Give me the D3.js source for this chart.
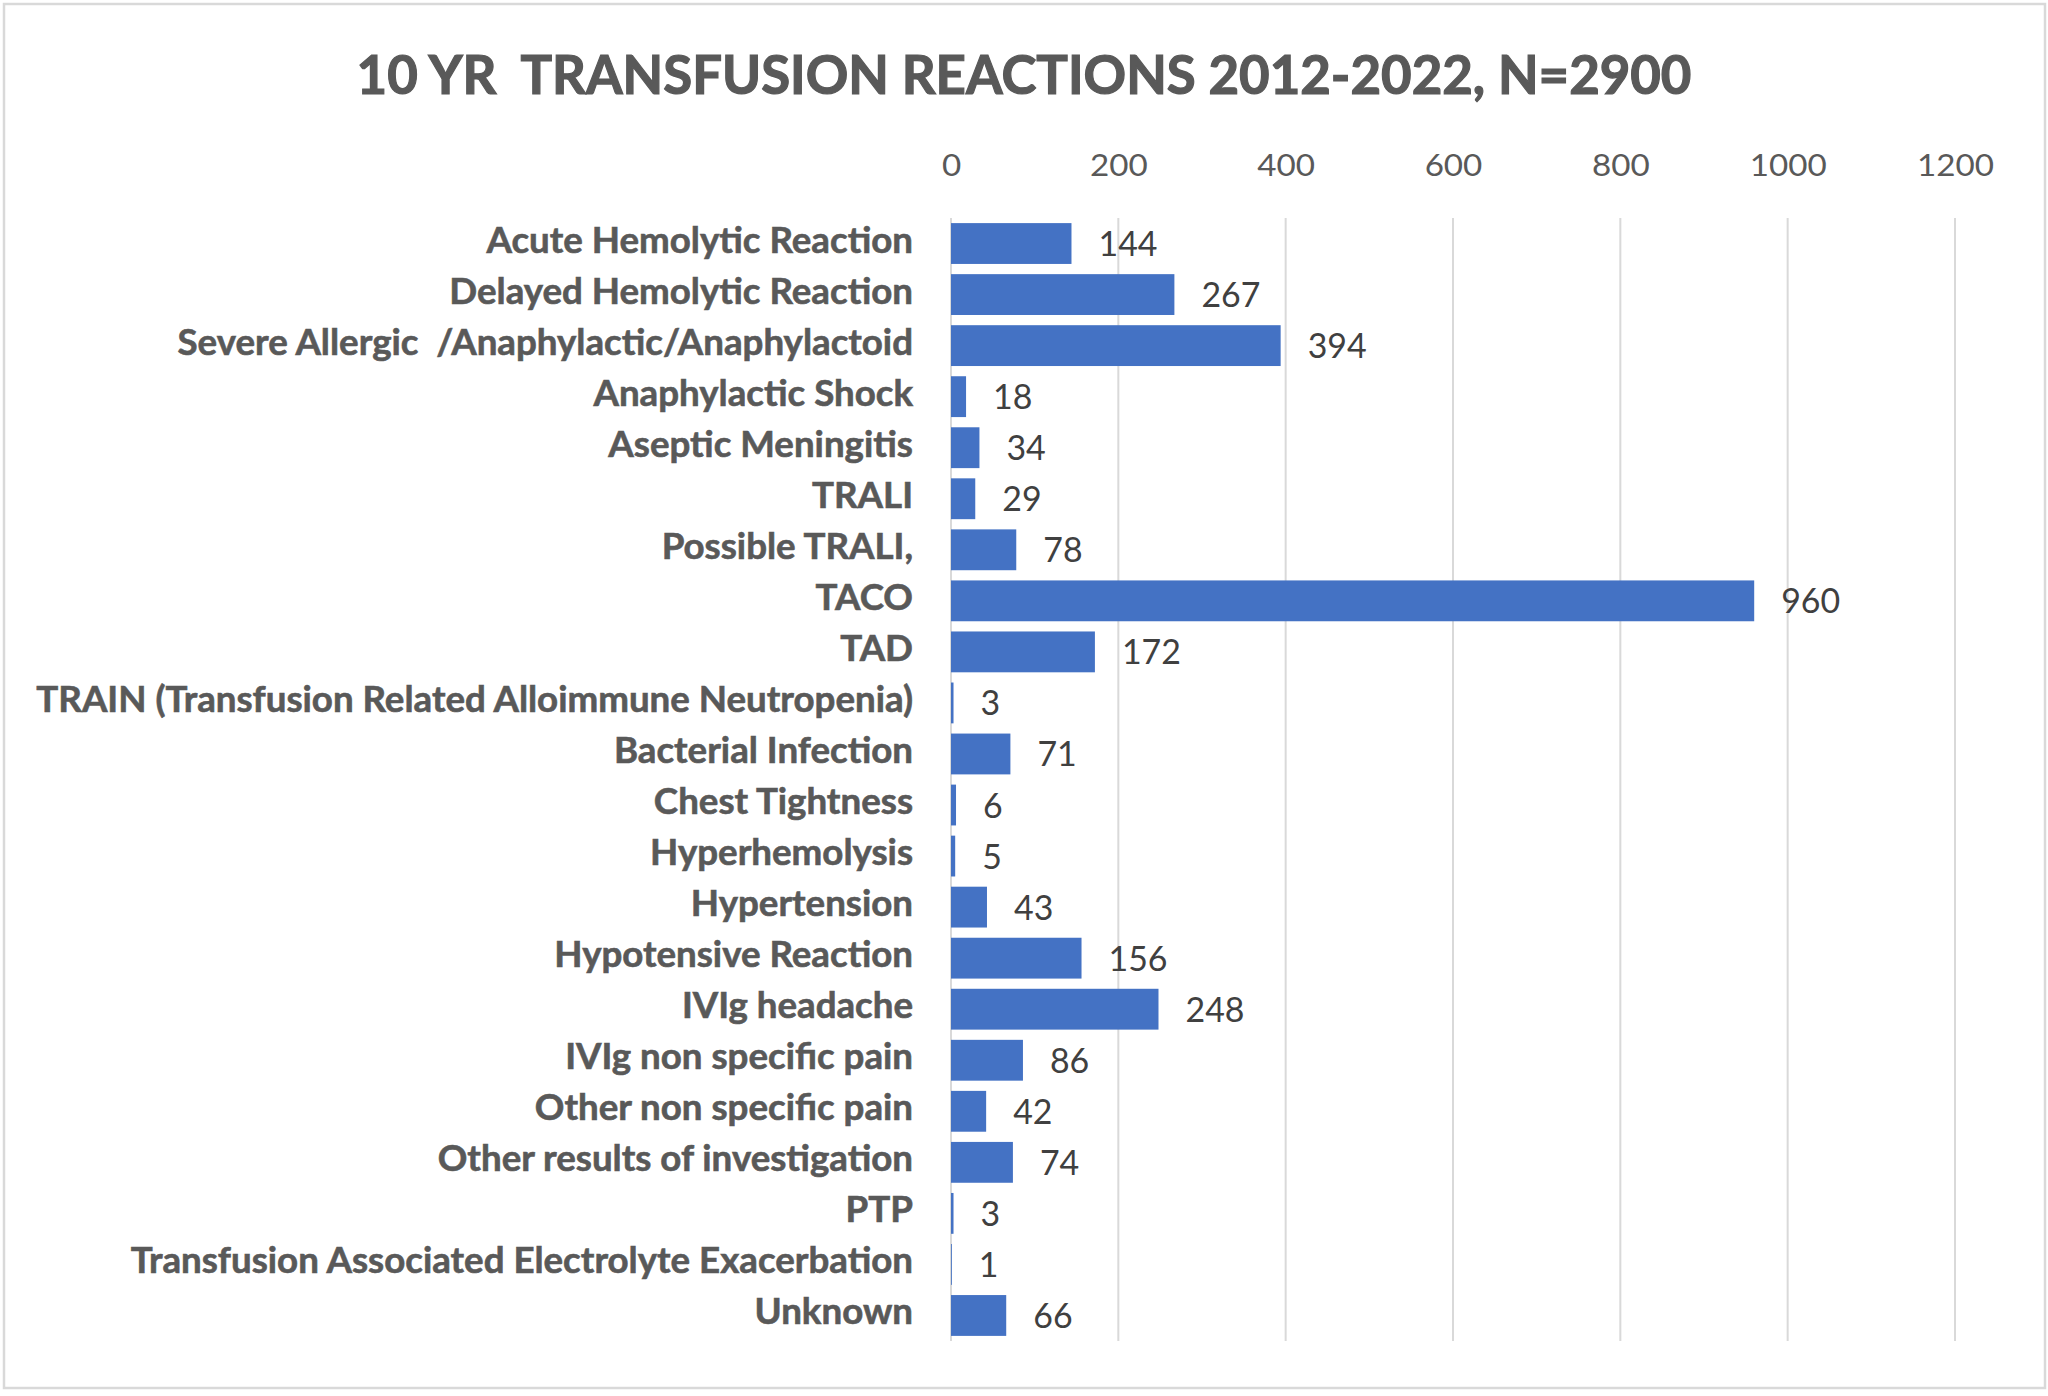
<!DOCTYPE html>
<html>
<head>
<meta charset="utf-8">
<script src="https://cdn.jsdelivr.net/npm/d3@7/dist/d3.min.js"></script>
<style>
  html, body { margin: 0; padding: 0; background: #ffffff; }
  svg { display: block; }
  text { white-space: pre; }
</style>
</head>
<body>
<svg id="chart" width="2048" height="1396"></svg>
<script>
const title = "10 YR  TRANSFUSION REACTIONS 2012-2022, N=2900";
const categories = [
  "Acute Hemolytic Reaction",
  "Delayed Hemolytic Reaction",
  "Severe Allergic  /Anaphylactic/Anaphylactoid",
  "Anaphylactic Shock",
  "Aseptic Meningitis",
  "TRALI",
  "Possible TRALI,",
  "TACO",
  "TAD",
  "TRAIN (Transfusion Related Alloimmune Neutropenia)",
  "Bacterial Infection",
  "Chest Tightness",
  "Hyperhemolysis",
  "Hypertension",
  "Hypotensive Reaction",
  "IVIg headache",
  "IVIg non specific pain",
  "Other non specific pain",
  "Other results of investigation",
  "PTP",
  "Transfusion Associated Electrolyte Exacerbation",
  "Unknown"
];
const values = [144, 267, 394, 18, 34, 29, 78, 960, 172, 3, 71, 6, 5, 43, 156, 248, 86, 42, 74, 3, 1, 66];
const tickValues = [0, 200, 400, 600, 800, 1000, 1200];

const svg = d3.select("#chart");
const FONT = "Lato, 'Open Sans', 'DejaVu Sans', sans-serif";

svg.append("rect").attr("x", 0).attr("y", 0).attr("width", 2048).attr("height", 1396).attr("fill", "#ffffff");
svg.append("rect").attr("x", 4).attr("y", 4).attr("width", 2041).attr("height", 1384)
  .attr("fill", "#ffffff").attr("stroke", "#d9d9d9").attr("stroke-width", 2.5);

const x = d3.scaleLinear().domain([0, 1200]).range([951, 1955]);
const y = d3.scaleBand().domain(categories).range([218, 1341]).paddingInner(0.2).paddingOuter(0.1);

function measure(str, size, weight) {
  const t = svg.append("text").attr("font-family", FONT).attr("font-size", size)
    .attr("font-weight", weight).style("white-space", "pre").text(str);
  const w = t.node().getComputedTextLength();
  t.remove();
  return w;
}

// gridlines
svg.append("g").selectAll("line").data(tickValues).join("line")
  .attr("x1", d => x(d)).attr("x2", d => x(d))
  .attr("y1", 218).attr("y2", 1341)
  .attr("stroke", "#d9d9d9").attr("stroke-width", 2);

// top axis tick labels
const tickSize = 31;
const tickSx = 77 / measure("1000", tickSize, 400);
const axis = d3.axisTop(x).tickValues(tickValues).tickSize(0).tickPadding(0).tickFormat(d3.format("d"));
const axG = svg.append("g").attr("transform", "translate(0,175.5)").call(axis);
axG.select(".domain").remove();
axG.selectAll(".tick text")
  .attr("font-family", FONT).attr("font-size", tickSize).attr("fill", "#595959")
  .attr("dy", 0).attr("y", 0)
  .attr("transform", `scale(${tickSx},1)`);

// bars
svg.append("g").selectAll("rect").data(values).join("rect")
  .attr("x", x(0))
  .attr("y", (d, i) => y(categories[i]))
  .attr("width", d => x(d) - x(0))
  .attr("height", y.bandwidth())
  .attr("fill", "#4472c4");

// category labels
const catSize = 36;
const catSx = 877 / measure(categories[9], catSize, 700);
svg.append("g").selectAll("text").data(categories).join("text")
  .attr("transform", d => `translate(913,${y(d) + y.bandwidth() / 2 + 9}) scale(${catSx},1)`)
  .attr("text-anchor", "end")
  .attr("font-family", FONT).attr("font-size", catSize).attr("font-weight", 700)
  .attr("fill", "#595959").attr("stroke", "#595959").attr("stroke-width", 0.6)
  .style("white-space", "pre")
  .text(d => d);

// value labels
const valSize = 34;
const valSx = 59 / measure("960", valSize, 400);
svg.append("g").selectAll("text").data(values).join("text")
  .attr("transform", (d, i) => `translate(${x(d) + 27},${y(categories[i]) + y.bandwidth() / 2 + 12.5}) scale(${valSx},1)`)
  .attr("font-family", FONT).attr("font-size", valSize)
  .attr("fill", "#404040")
  .text(d => d);

// title
const titleSize = 53.5;
const titleSx = 1335 / measure(title, titleSize, 700);
svg.append("text")
  .attr("transform", `translate(1024,94.3) scale(${titleSx},1)`)
  .attr("text-anchor", "middle")
  .attr("font-family", FONT).attr("font-size", titleSize).attr("font-weight", 700)
  .attr("fill", "#595959").attr("stroke", "#595959").attr("stroke-width", 1.2)
  .style("white-space", "pre")
  .text(title);
</script>
</body>
</html>
